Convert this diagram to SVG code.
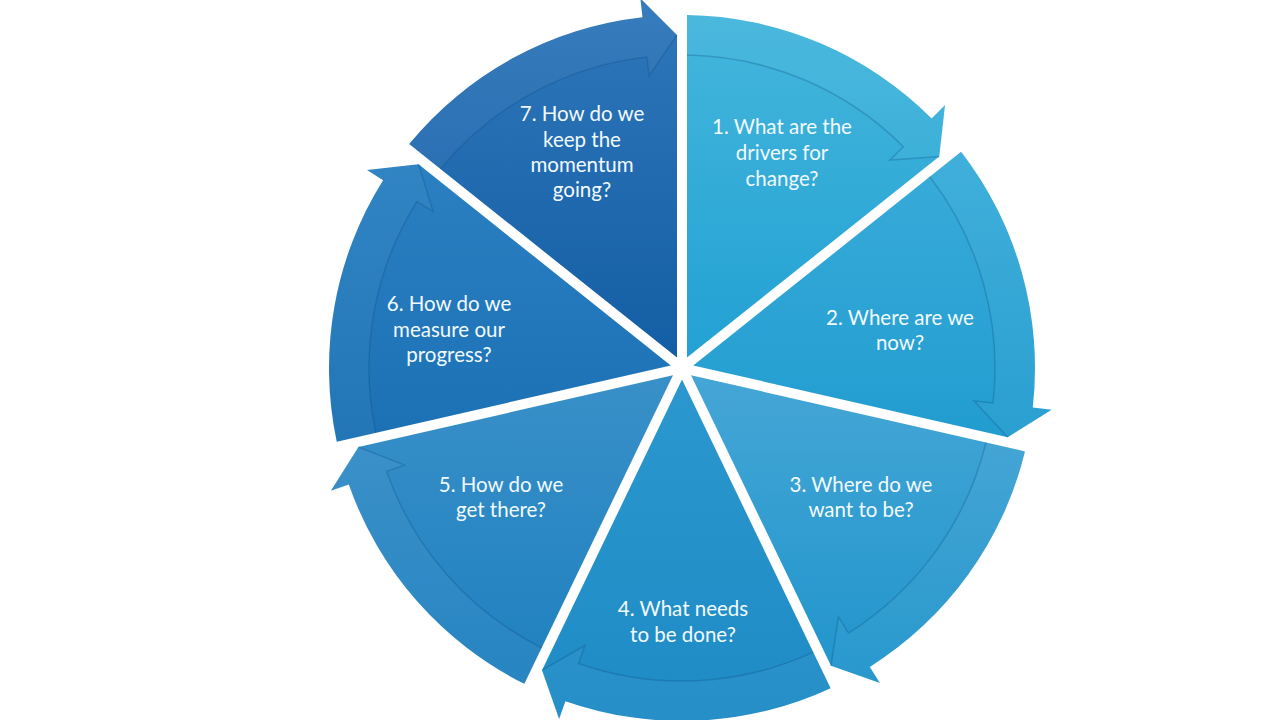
<svg xmlns="http://www.w3.org/2000/svg" width="1280" height="720" viewBox="0 0 1280 720">
  <defs>
    <path id="seg" d="M687 357.62 L687 15.04 A353 353 0 0 1 931.61 118.39 L945.04 104.96 L939.23 156.47 Z"/>
    <path id="band" d="M687 15.04 A353 353 0 0 1 931.61 118.39 L945.04 104.96 L939.23 156.47 L889.89 160.11 L903.32 146.68 A313 313 0 0 0 687 55.04 Z"/>
    <path id="edge" d="M687 55.04 A313 313 0 0 1 903.32 146.68 L889.89 160.11 L939.23 156.47"/>
    <linearGradient id="g1" gradientUnits="userSpaceOnUse" x1="682" y1="15" x2="682" y2="360">
      <stop offset="0" stop-color="#44b6dc"/><stop offset="1" stop-color="#22a1d3"/>
    </linearGradient>
    <linearGradient id="g2" gradientUnits="userSpaceOnUse" x1="682" y1="150" x2="682" y2="445" gradientTransform="rotate(-51.4286 682 368)">
      <stop offset="0" stop-color="#39acda"/><stop offset="1" stop-color="#219ccf"/>
    </linearGradient>
    <linearGradient id="g3" gradientUnits="userSpaceOnUse" x1="682" y1="375" x2="682" y2="690" gradientTransform="rotate(-102.8571 682 368)">
      <stop offset="0" stop-color="#45a6d6"/><stop offset="1" stop-color="#1f94cb"/>
    </linearGradient>
    <linearGradient id="g4" gradientUnits="userSpaceOnUse" x1="682" y1="385" x2="682" y2="720" gradientTransform="rotate(-154.2857 682 368)">
      <stop offset="0" stop-color="#2b97ce"/><stop offset="1" stop-color="#1f8bc5"/>
    </linearGradient>
    <linearGradient id="g5" gradientUnits="userSpaceOnUse" x1="682" y1="375" x2="682" y2="690" gradientTransform="rotate(-205.7143 682 368)">
      <stop offset="0" stop-color="#3990c8"/><stop offset="1" stop-color="#1e80bf"/>
    </linearGradient>
    <linearGradient id="g6" gradientUnits="userSpaceOnUse" x1="682" y1="160" x2="682" y2="440" gradientTransform="rotate(-257.1429 682 368)">
      <stop offset="0" stop-color="#2a80c1"/><stop offset="1" stop-color="#1b71b4"/>
    </linearGradient>
    <linearGradient id="g7" gradientUnits="userSpaceOnUse" x1="682" y1="0" x2="682" y2="355" gradientTransform="rotate(-308.5714 682 368)">
      <stop offset="0" stop-color="#2f77ba"/><stop offset="1" stop-color="#145ea5"/>
    </linearGradient>
  </defs>
  <style>
    text { font-family: Lato, "Liberation Sans", sans-serif; font-size: 20.5px; fill: #f2faff; text-anchor: middle; }
    .band { fill: #ffffff; fill-opacity: 0.04; }
    .edge { fill: none; stroke: #0a4a80; stroke-opacity: 0.28; stroke-width: 1.5; }
  </style>
  <rect width="1280" height="720" fill="#ffffff"/>

  <g id="step1">
    <use href="#seg" fill="url(#g1)"/>
    <text x="782" y="134">1. What are the</text>
    <text x="782" y="160">drivers for</text>
    <text x="782" y="186">change?</text>
  </g>
  <g id="step2">
    <use href="#seg" fill="url(#g2)" transform="rotate(51.4286 682 368)"/>
    <text x="900" y="325">2. Where are we</text>
    <text x="900" y="350">now?</text>
  </g>
  <g id="step3">
    <use href="#seg" fill="url(#g3)" transform="rotate(102.8571 682 368)"/>
    <text x="861" y="492">3. Where do we</text>
    <text x="861" y="517">want to be?</text>
  </g>
  <g id="step4">
    <use href="#seg" fill="url(#g4)" transform="rotate(154.2857 682 368)"/>
    <text x="683" y="616">4. What needs</text>
    <text x="683" y="642">to be done?</text>
  </g>
  <g id="step5">
    <use href="#seg" fill="url(#g5)" transform="rotate(205.7143 682 368)"/>
    <text x="501" y="492">5. How do we</text>
    <text x="501" y="517">get there?</text>
  </g>
  <g id="step6">
    <use href="#seg" fill="url(#g6)" transform="rotate(257.1429 682 368)"/>
    <text x="449" y="311">6. How do we</text>
    <text x="449" y="337">measure our</text>
    <text x="449" y="362">progress?</text>
  </g>
  <g id="step7">
    <use href="#seg" fill="url(#g7)" transform="rotate(308.5714 682 368)"/>
    <text x="582" y="121">7. How do we</text>
    <text x="582" y="147">keep the</text>
    <text x="582" y="172">momentum</text>
    <text x="582" y="197">going?</text>
  </g>

  <g id="connectors">
    <g transform="rotate(0 682 368)"><use href="#band" class="band"/><use href="#edge" class="edge"/></g>
    <g transform="rotate(51.4286 682 368)"><use href="#band" class="band"/><use href="#edge" class="edge"/></g>
    <g transform="rotate(102.8571 682 368)"><use href="#band" class="band"/><use href="#edge" class="edge"/></g>
    <g transform="rotate(154.2857 682 368)"><use href="#band" class="band"/><use href="#edge" class="edge"/></g>
    <g transform="rotate(205.7143 682 368)"><use href="#band" class="band"/><use href="#edge" class="edge"/></g>
    <g transform="rotate(257.1429 682 368)"><use href="#band" class="band"/><use href="#edge" class="edge"/></g>
    <g transform="rotate(308.5714 682 368)"><use href="#band" class="band"/><use href="#edge" class="edge"/></g>
  </g>
</svg>
